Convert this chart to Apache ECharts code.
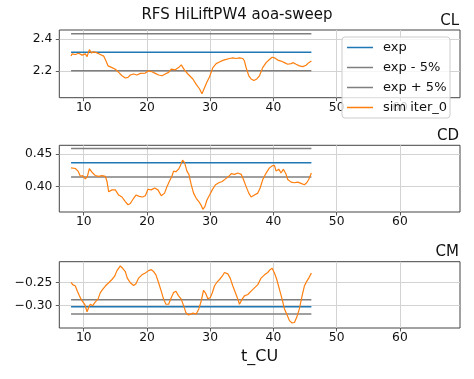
<!DOCTYPE html>
<html><head><meta charset="utf-8">
<script src="https://cdn.jsdelivr.net/npm/echarts@6/dist/echarts.min.js"></script>
<style>html,body{margin:0;padding:0;background:#fff}#c{width:474px;height:379px}</style>
</head><body><div id="c"></div>
<script>
// ---- data ----
const tCL=[8,8.16,8.68,9.21,9.74,10.26,10.53,10.89,11.21,11.58,12.1,12.63,13.16,13.53,13.84,14.47,15,15.53,16.05,16.58,17,17.37,17.89,18.42,18.95,19.74,20.26,20.79,21.32,21.84,22.37,22.89,23.42,23.84,24.47,25,25.42,25.95,26.47,27.26,27.79,28.3,28.7,29.1,29.47,29.9,30.42,30.95,31.47,32,32.53,33.05,33.58,34.1,34.63,35.16,35.42,35.68,36.1,36.47,36.9,37.37,37.79,38.3,38.84,39.37,39.79,40.16,40.68,41.2,41.74,42.26,42.79,43.16,43.58,44.1,44.63,45.16,45.58,46];
const simCL=[2.293,2.307,2.303,2.311,2.299,2.307,2.29,2.333,2.313,2.319,2.313,2.303,2.293,2.262,2.232,2.221,2.211,2.191,2.17,2.156,2.16,2.175,2.181,2.175,2.185,2.187,2.201,2.195,2.185,2.175,2.17,2.181,2.191,2.211,2.207,2.221,2.238,2.205,2.181,2.15,2.116,2.089,2.058,2.095,2.13,2.164,2.221,2.246,2.256,2.266,2.272,2.278,2.282,2.278,2.282,2.278,2.262,2.221,2.17,2.15,2.14,2.15,2.17,2.221,2.252,2.272,2.286,2.282,2.268,2.262,2.252,2.242,2.246,2.252,2.242,2.232,2.227,2.236,2.252,2.262];

const tCD=[8,8.26,8.68,9.1,9.47,9.84,10.26,10.58,10.89,11.1,11.42,11.84,12.37,12.9,13.42,13.68,13.95,14.47,15,15.53,16.05,16.58,17,17.37,17.89,18.26,18.79,19.32,19.74,20.16,20.68,21.21,21.74,22.26,22.79,23.16,23.53,23.95,24.21,24.58,25,25.26,25.63,25.95,26.32,26.63,27,27.37,27.79,28.2,28.58,28.84,29.16,29.47,29.9,30.32,30.84,31.37,31.9,32.42,32.95,33.32,33.84,34.37,34.9,35.26,35.68,36.1,36.47,37,37.53,37.9,38.32,38.84,39.37,39.79,40.16,40.42,40.84,41.2,41.58,42,42.26,42.79,43.32,43.84,44.37,44.89,45.26,45.58,46];
const simCD=[0.429,0.431,0.428,0.424,0.416,0.417,0.412,0.416,0.428,0.431,0.421,0.417,0.416,0.417,0.416,0.408,0.392,0.395,0.395,0.387,0.384,0.377,0.372,0.374,0.382,0.387,0.385,0.384,0.386,0.396,0.395,0.398,0.395,0.386,0.39,0.4,0.408,0.416,0.424,0.423,0.427,0.432,0.441,0.437,0.424,0.419,0.403,0.39,0.382,0.377,0.371,0.365,0.369,0.379,0.387,0.395,0.403,0.406,0.408,0.412,0.416,0.42,0.419,0.421,0.419,0.411,0.4,0.39,0.384,0.387,0.39,0.398,0.411,0.421,0.429,0.432,0.433,0.424,0.427,0.421,0.427,0.419,0.411,0.407,0.406,0.407,0.405,0.403,0.406,0.411,0.421];

const tCM=[8,8.26,8.68,9,9.32,9.74,10.16,10.53,10.79,11.05,11.42,11.84,12.26,12.63,13,13.42,13.95,14.47,14.89,15.26,15.79,16.16,16.58,16.89,17.37,17.89,18.26,18.68,19.21,19.74,20.26,20.68,21.05,21.42,21.84,22.26,22.63,23,23.42,23.84,24.21,24.58,25,25.42,25.79,26.16,26.58,27.26,27.79,28.2,28.58,28.95,29.26,29.63,30,30.32,30.68,31.05,31.47,31.9,32.26,32.53,32.79,33.16,33.58,34,34.37,34.63,35.05,35.42,35.95,36.47,37,37.53,38.05,38.58,39.1,39.47,39.79,40.16,40.53,40.95,41.37,41.74,42.1,42.53,42.95,43.32,43.68,44.1,44.53,44.89,45.26,45.58,46];
const simCM=[-0.25,-0.255,-0.258,-0.269,-0.279,-0.29,-0.297,-0.313,-0.304,-0.297,-0.3,-0.292,-0.286,-0.272,-0.265,-0.258,-0.251,-0.244,-0.237,-0.225,-0.215,-0.22,-0.227,-0.241,-0.251,-0.257,-0.253,-0.241,-0.234,-0.23,-0.225,-0.223,-0.227,-0.234,-0.251,-0.269,-0.286,-0.297,-0.297,-0.283,-0.272,-0.269,-0.279,-0.286,-0.3,-0.315,-0.32,-0.316,-0.318,-0.307,-0.29,-0.267,-0.273,-0.285,-0.283,-0.273,-0.258,-0.25,-0.244,-0.237,-0.229,-0.225,-0.232,-0.241,-0.258,-0.273,-0.286,-0.297,-0.286,-0.279,-0.276,-0.269,-0.262,-0.255,-0.241,-0.234,-0.229,-0.223,-0.22,-0.23,-0.244,-0.265,-0.286,-0.307,-0.318,-0.332,-0.337,-0.336,-0.325,-0.307,-0.279,-0.258,-0.248,-0.241,-0.23];

const panelNames=['CL','CD','CM'];
const legendNames=['exp','exp - 5%','exp + 5%','sim iter_0'];
const expT=[8,46];
const expVal=[2.317,0.437,-0.3025];
const expMinus=[2.201,0.415,-0.2874];
const expPlus=[2.433,0.459,-0.3176];
const xTicks=[10,20,30,40,50,60];
const yTicks=[[2.2,2.4],[0.40,0.45],[-0.30,-0.25]];
const yTickLabels=[['2.2','2.4'],['0.40','0.45'],['\u22120.30','\u22120.25']];
const xRange=[6.14,69.5];
const yRanges=[[2.033,2.456],[0.3608,0.4639],[-0.3478,-0.2059]];
const chartTitle='RFS HiLiftPW4 aoa-sweep';
const xName='t_CU';
const simT=[tCL,tCD,tCM];
const simV=[simCL,simCD,simCM];

// ---- layout/style ----
const FONT='DejaVu Sans';
const gridTops=[30,145.3,261.7];
const gridHeights=[67.7,66.7,66.3];
const titleTops=[14,129,245];
const C_EXP='#1f77b4', C_GRAY='#7f7f7f', C_SIM='#ff7f0e';
const LINE_ICON='path://M0,0L26,0L26,1.5L0,1.5Z';

const pair=(xs,ys)=>xs.map((x,i)=>[x,ys[i]]);

const grids=[],xAxes=[],yAxes=[],series=[];
const titles=[{text:chartTitle,left:'center',top:8,padding:0,textStyle:{fontFamily:FONT,fontSize:15,fontWeight:'normal',color:'#111'}}];
for(let p=0;p<3;p++){
  grids.push({left:59.3,right:14,top:gridTops[p],height:gridHeights[p],show:true,borderColor:'#444',borderWidth:1,backgroundColor:'transparent'});
  titles.push({text:panelNames[p],right:15,top:titleTops[p],padding:0,textStyle:{fontFamily:FONT,fontSize:15,fontWeight:'normal',color:'#111'}});
  xAxes.push({type:'value',gridIndex:p,min:xRange[0],max:xRange[1],
    axisLine:{show:false},
    axisTick:{show:true,length:3.5,customValues:xTicks,lineStyle:{color:'#333',width:0.8}},
    axisLabel:{customValues:xTicks,margin:4,fontFamily:FONT,fontSize:12.3,color:'#111'},
    splitLine:{show:true,lineStyle:{color:'#d3d3d3',width:1}},
    name:p===2?xName:'',nameLocation:'middle',nameGap:21,
    nameTextStyle:{fontFamily:FONT,fontSize:16,color:'#111'}});
  const labs=yTickLabels[p], tv=yTicks[p];
  yAxes.push({type:'value',gridIndex:p,min:yRanges[p][0],max:yRanges[p][1],
    axisLine:{show:false},
    axisTick:{show:true,length:3.5,customValues:tv,lineStyle:{color:'#333',width:0.8}},
    axisLabel:{customValues:tv,margin:7,fontFamily:FONT,fontSize:12.3,color:'#111',
      formatter:v=>{for(let i=0;i<tv.length;i++){if(Math.abs(v-tv[i])<1e-9)return labs[i];}return '';}},
    splitLine:{show:true,lineStyle:{color:'#d3d3d3',width:1}}});
  const common={type:'line',xAxisIndex:p,yAxisIndex:p,symbol:'none',silent:true,animation:false};
  series.push(Object.assign({},common,{name:legendNames[0],data:pair(expT,[expVal[p],expVal[p]]),lineStyle:{color:C_EXP,width:1.5},itemStyle:{color:C_EXP}}));
  series.push(Object.assign({},common,{name:legendNames[1],data:pair(expT,[expMinus[p],expMinus[p]]),lineStyle:{color:C_GRAY,width:1.5},itemStyle:{color:C_GRAY}}));
  series.push(Object.assign({},common,{name:legendNames[2],data:pair(expT,[expPlus[p],expPlus[p]]),lineStyle:{color:C_GRAY,width:1.5},itemStyle:{color:C_GRAY}}));
  series.push(Object.assign({},common,{name:legendNames[3],data:pair(simT[p],simV[p]),lineStyle:{color:C_SIM,width:1.2},itemStyle:{color:C_SIM}}));
}

const chart=echarts.init(document.getElementById('c'),null,{renderer:'canvas'});
chart.setOption({
  animation:false,
  backgroundColor:'#fff',
  title:titles,
  grid:grids,xAxis:xAxes,yAxis:yAxes,series:series,
  legend:{data:legendNames.map(n=>({name:n,icon:LINE_ICON})),orient:'vertical',left:342,top:37,
    padding:[4,3,4,5],itemGap:7,itemWidth:26,itemHeight:14,symbolKeepAspect:true,
    backgroundColor:'rgba(255,255,255,0.8)',borderColor:'#cccccc',borderWidth:1,borderRadius:3,
    selectedMode:false,
    textStyle:{fontFamily:FONT,fontSize:13,color:'#111',width:66,overflow:'none',padding:[0,0,0,5]}}
});
</script></body></html>
